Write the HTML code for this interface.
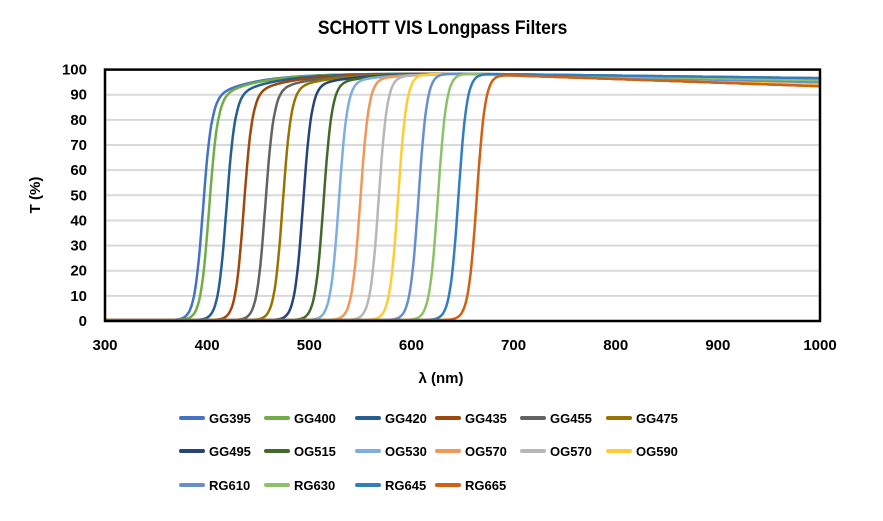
<!DOCTYPE html>
<html><head><meta charset="utf-8"><style>
body{margin:0;background:#fff;width:883px;height:516px;overflow:hidden;font-family:"Liberation Sans",sans-serif}
</style></head><body>
<svg id="s" width="883" height="516" xmlns="http://www.w3.org/2000/svg" font-family="Liberation Sans, sans-serif">
<text x="441" y="34" text-anchor="middle" font-size="19" font-weight="bold" fill="#000" transform="translate(461,0) scale(0.92,1) translate(-461,0)">SCHOTT VIS Longpass Filters</text>
<g id="grid" stroke="#d9d9d9" stroke-width="2"></g>
<g id="curves" fill="none" stroke-width="2.5" stroke-linejoin="round"></g>
<rect x="105" y="69.6" width="715" height="251.4" fill="none" stroke="#000" stroke-width="2.5"/>
<g id="labels" font-size="15" font-weight="bold" fill="#000"></g>
<text x="441" y="383" text-anchor="middle" font-size="15" font-weight="bold">λ (nm)</text>
<text x="0" y="0" text-anchor="middle" font-size="15" font-weight="bold" transform="translate(40,195) rotate(-90)">T (%)</text>
<g id="legend" font-size="13" font-weight="bold"></g>
</svg>
<script>
const NS="http://www.w3.org/2000/svg";
const X=l=>105+(l-300)*715/700, Y=t=>321-t*2.514;
const g=document.getElementById('grid'),lb=document.getElementById('labels');
function el(p,tag,a,txt){const e=document.createElementNS(NS,tag);for(const k in a)e.setAttribute(k,a[k]);if(txt!==undefined)e.textContent=txt;p.appendChild(e);return e;}
for(let t=10;t<=90;t+=10)el(g,'line',{x1:105,x2:820,y1:Y(t),y2:Y(t)});
for(let t=0;t<=100;t+=10)el(lb,'text',{x:87,y:Y(t)+5,'text-anchor':'end'},String(t));
for(let l=300;l<=1000;l+=100)el(lb,'text',{x:X(l),y:350,'text-anchor':'middle'},String(l));
const F=[["GG395","#4472C4",396],["GG400","#70AD47",402],["GG420","#255E91",419],["GG435","#9E480E",436],["GG455","#636363",457],["GG475","#997300",474],
["GG495","#264478",494],["OG515","#43682B",514],["OG530","#7CAFDD",529],["OG570","#F1975A",550],["OG570","#B7B7B7",568],["OG590","#FFCD33",587],
["RG610","#698ED0",607],["RG630","#8CC168",626],["RG645","#327DC2",646],["RG665","#D26012",664]];
const cg=document.getElementById('curves'),lg=document.getElementById('legend');
F.forEach((f,i)=>{
 const c=f[2];let d="";
 const B=Math.max(0,9-(c-396)*0.045);
 const end=93+(i%5)*0.8;
 for(let l=300;l<=1000;l+=1){
  const s=1/(1+Math.exp(-(l-c)/4.2));
  let A=98;
  if(l>650)A=98-(98-end)*Math.min(1,(l-650)/350);
  const T=s*(A-B*Math.exp(-Math.max(0,l-c-10)/40))+0.4;
  d+=(l==300?"M":"L")+X(l).toFixed(1)+","+Y(T).toFixed(1);
 }
 el(cg,'path',{d:d,stroke:f[1]});
 const col=i%6,row=Math.floor(i/6);
 const lx=[181,266,357,437,522,608][col],ly=[418,451,485][row];
 el(lg,'line',{x1:lx,x2:lx+22,y1:ly,y2:ly,stroke:f[1],'stroke-width':4,'stroke-linecap':'round'});
 el(lg,'text',{x:lx+28,y:ly+5},f[0]);
});
</script>
</body></html>
